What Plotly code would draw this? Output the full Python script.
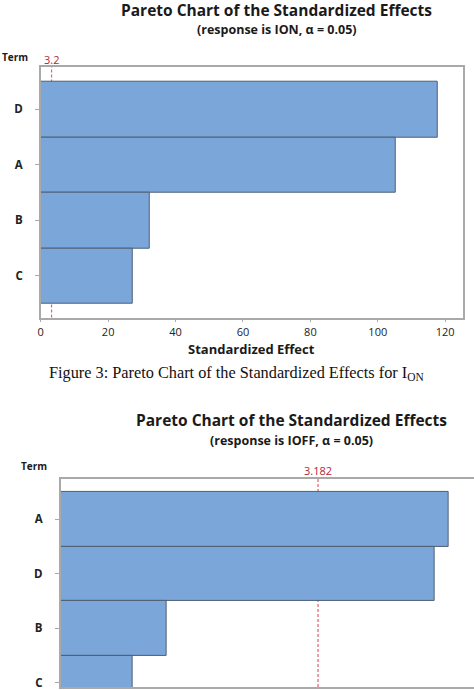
import plotly.graph_objects as go

# ---- data ----
terms_ion = ["D", "A", "B", "C"]
effects_ion = [117.8, 105.2, 32.2, 27.2]
crit_ion = 3.2

terms_ioff = ["A", "D", "B", "C"]
effects_ioff = [4.80, 4.62, 1.31, 0.89]
crit_ioff = 3.182

x_ticks_ion = [0, 20, 40, 60, 80, 100, 120]

W, H = 474, 690
def px(x):
    return x / W
def py(y):
    return 1 - y / H

BAR = "#7BA6D9"
EDGE = "#4F5F74"
AXC = "#A9A9A9"
RED = "#B0283A"
DASH = "#E0606E"
FONT = "Open Sans"

fig = go.Figure()
fig.add_trace(go.Bar(x=effects_ion, y=terms_ion, orientation="h", width=1,
                     marker=dict(color=BAR, line=dict(color=EDGE, width=1)),
                     xaxis="x", yaxis="y", showlegend=False))
fig.add_trace(go.Bar(x=effects_ioff, y=terms_ioff, orientation="h", width=1,
                     marker=dict(color=BAR, line=dict(color=EDGE, width=1)),
                     xaxis="x2", yaxis="y2", showlegend=False))

base = dict(showgrid=False, zeroline=False, showline=True, linecolor=AXC,
            linewidth=1.5, tickcolor=AXC)
ytickfont = dict(family=FONT, size=11.5, color="#222", weight="bold")

fig.update_layout(
    width=W, height=H, margin=dict(l=0, r=0, t=0, b=0),
    paper_bgcolor="white", plot_bgcolor="white", bargap=0,
    xaxis=dict(domain=[px(38), px(463)], range=[0, 125.3], anchor="y",
               tickvals=x_ticks_ion, ticks="outside", ticklen=3, ticklabelstandoff=0,
               mirror=True, tickfont=dict(family=FONT, size=11, color="#222"), **base),
    yaxis=dict(domain=[py(319), py(67)], range=[3.75, -0.77], anchor="x",
               type="category", ticks="outside", ticklen=4, ticklabelstandoff=10,
               mirror=True, tickfont=ytickfont, **base),
    xaxis2=dict(domain=[px(58), 1.0], range=[0, 5.11], anchor="y2",
                showticklabels=False, ticks="", mirror=True, **base),
    yaxis2=dict(domain=[0, py(481)], range=[3.08, -0.74], anchor="x2",
                type="category", ticks="outside", ticklen=4, ticklabelstandoff=10,
                mirror=False, tickfont=ytickfont, **base),
)

# critical value lines (behind bars)
fig.add_shape(type="line", xref="x", yref="paper", x0=crit_ion, x1=crit_ion,
              y0=py(319), y1=py(67), line=dict(color=DASH, width=1.2, dash="3px,2px"), layer="below")
fig.add_shape(type="line", xref="x2", yref="paper", x0=crit_ioff, x1=crit_ioff,
              y0=0, y1=py(481), line=dict(color=DASH, width=1.2, dash="3px,2px"), layer="below")

def ann(text, x, y, size, color="#1a1a1a", bold=False, family=FONT, xanchor="center", xref="paper"):
    fig.add_annotation(text=text, x=x, y=y, xref=xref, yref="paper", showarrow=False,
                       xanchor=xanchor, yanchor="middle",
                       font=dict(family=family, size=size, color=color,
                                 weight="bold" if bold else "normal"))

# top chart texts
ann("Pareto Chart of the Standardized Effects", px(275), py(10.5), 15.5, bold=True)
ann("(response is ION, \u03b1 = 0.05)", px(276), py(30), 12.5, bold=True)
ann("Term", px(-3), py(57), 10, bold=True, xanchor="left")
ann(str(crit_ion), crit_ion, py(60), 11, color=RED, xref="x")
ann("Standardized Effect", px(250), py(351), 13, bold=True)
ann("Figure 3: Pareto Chart of the Standardized Effects for I<sub>ON</sub>", px(235), py(375), 16.3,
    color="#111", family="Liberation Serif")

# second chart texts
ann("Pareto Chart of the Standardized Effects", px(290), py(421.5), 15.5, bold=True)
ann("(response is IOFF, \u03b1 = 0.05)", px(290), py(442), 12.5, bold=True)
ann("Term", px(31), py(468), 10, bold=True)
ann(str(crit_ioff), crit_ioff, py(473), 11, color=RED, xref="x2")

fig.write_html("out.html", config={"displayModeBar": False},
               post_script="document.body.style.margin='0px';document.body.style.overflow='hidden';")
